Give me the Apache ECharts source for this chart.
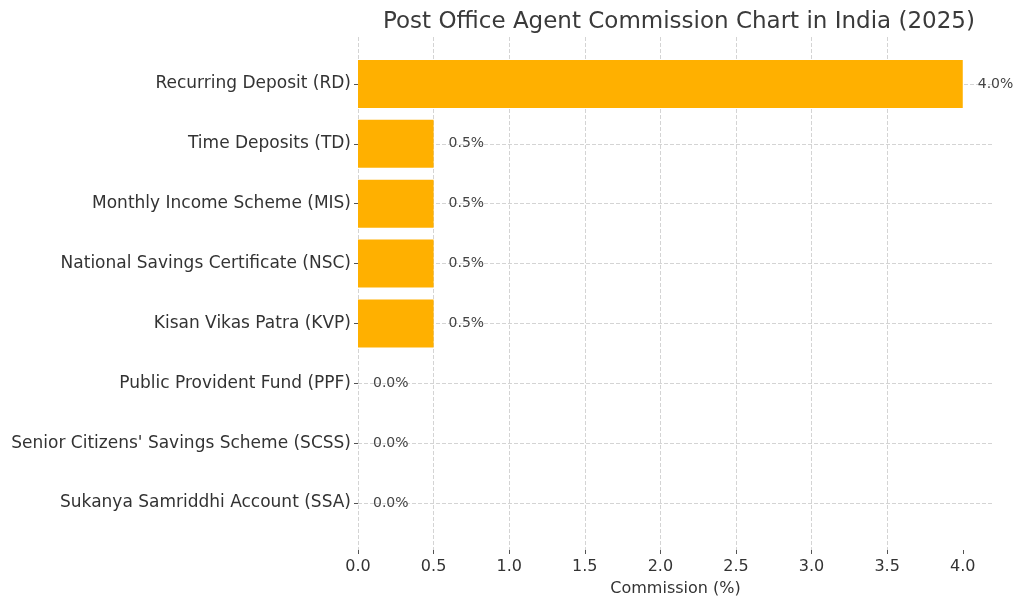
<!DOCTYPE html>
<html>
<head>
<meta charset="utf-8">
<script src="https://cdn.jsdelivr.net/npm/echarts@6/dist/echarts.min.js"></script>
<style>
  html, body { margin: 0; padding: 0; background: #fff; }
  #chart { width: 1024px; height: 608px; }
</style>
</head>
<body>
<div id="chart"></div>
<script>
const schemes = [
  "Recurring Deposit (RD)",
  "Time Deposits (TD)",
  "Monthly Income Scheme (MIS)",
  "National Savings Certificate (NSC)",
  "Kisan Vikas Patra (KVP)",
  "Public Provident Fund (PPF)",
  "Senior Citizens' Savings Scheme (SCSS)",
  "Sukanya Samriddhi Account (SSA)"
];
const commission = [4.0, 0.5, 0.5, 0.5, 0.5, 0.0, 0.0, 0.0];
const xTicks = [0, 0.5, 1.0, 1.5, 2.0, 2.5, 3.0, 3.5, 4.0];
const xMin = 0;
const xMax = 4.2;

const font = "DejaVu Sans";
const gridLine = { show: true, lineStyle: { type: "dashed", color: "#d4d4d4", width: 1 } };

const chart = echarts.init(document.getElementById("chart"));
chart.setOption({
  animation: false,
  textStyle: { fontFamily: font },
  title: {
    text: "Post Office Agent Commission Chart in India (2025)",
    left: 378,
    top: 6,
    textStyle: { fontFamily: font, fontSize: 23, fontWeight: "normal", color: "#3a3a3a" }
  },
  grid: [
    // bars + category axis
    { left: 358, right: 31, top: 54, bottom: 75 },
    // value axis frame (matplotlib margins)
    { left: 358, right: 31, top: 37, bottom: 58 }
  ],
  xAxis: [
    {
      gridIndex: 0, type: "value", min: xMin, max: xMax,
      show: false
    },
    {
      gridIndex: 1, type: "value", min: xMin, max: xMax,
      axisLine: { show: false },
      axisTick: { show: true, length: 4, customValues: xTicks, lineStyle: { color: "#555" } },
      axisLabel: {
        fontSize: 16, color: "#333", margin: 9, fontFamily: font,
        customValues: xTicks,
        formatter: v => v.toFixed(1)
      },
      splitLine: Object.assign({ showMaxLine: false }, gridLine),
      name: "Commission (%)",
      nameLocation: "middle",
      nameGap: 31,
      nameTextStyle: { fontSize: 16, color: "#333", fontFamily: font }
    }
  ],
  yAxis: [
    {
      gridIndex: 0, type: "category", data: schemes, inverse: true,
      axisLine: { show: false },
      axisTick: { show: true, alignWithLabel: true, length: 4, lineStyle: { color: "#555" } },
      axisLabel: { fontSize: 17, color: "#333", margin: 7, fontFamily: font, padding: [3, 0, 0, 0] },
      splitLine: Object.assign({ alignWithLabel: true }, gridLine)
    },
    {
      gridIndex: 1, type: "value", min: 0, max: 1, show: false, splitLine: { show: false }
    }
  ],
  series: [
    {
      type: "bar",
      xAxisIndex: 0,
      yAxisIndex: 0,
      data: commission,
      barWidth: 48,
      itemStyle: { color: "#FFB000" },
      label: {
        show: true,
        position: "right",
        distance: 15,
        fontSize: 14,
        color: "#444",
        fontFamily: font,
        formatter: p => p.value.toFixed(1) + "%"
      }
    }
  ]
});
</script>
</body>
</html>
